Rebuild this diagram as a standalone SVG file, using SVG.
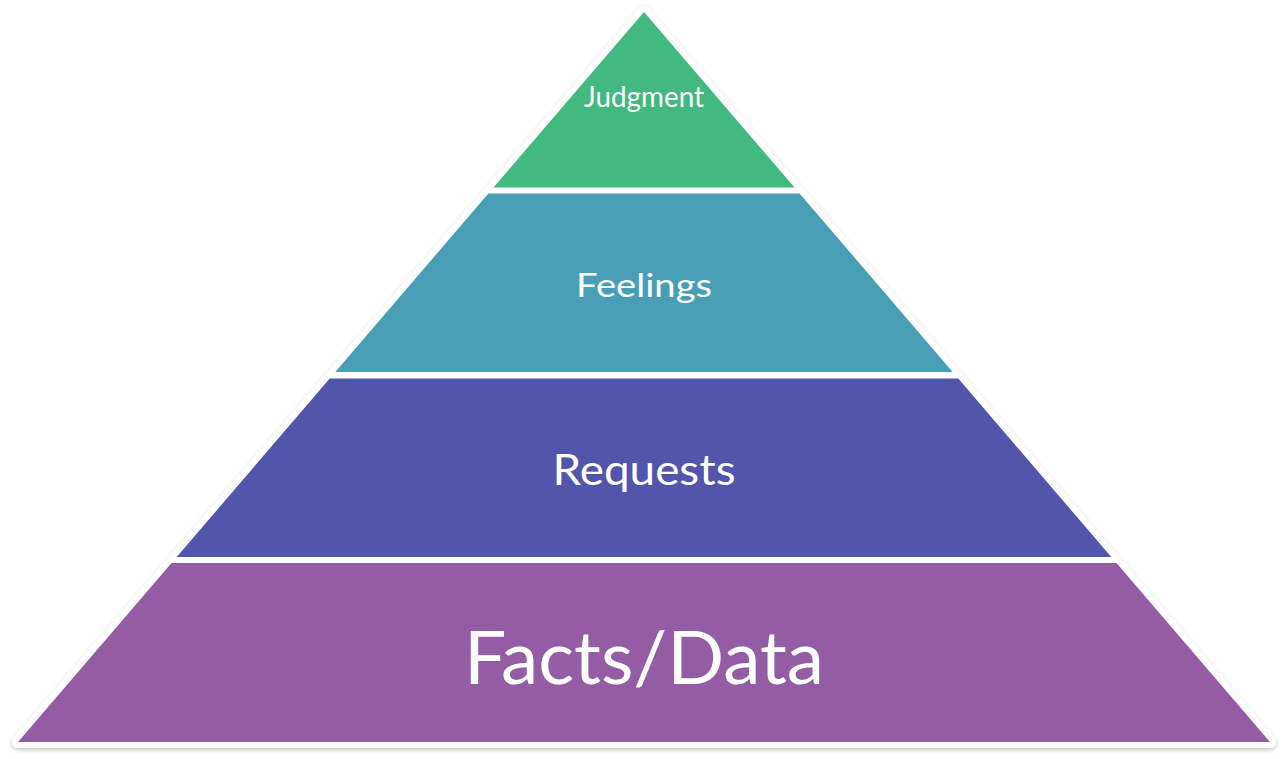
<svg xmlns="http://www.w3.org/2000/svg" width="1288" height="759" viewBox="0 0 1288 759">
  <defs>
    <filter id="shadow" x="-5%" y="-5%" width="110%" height="110%">
      <feDropShadow dx="0" dy="2" stdDeviation="2" flood-color="#000" flood-opacity="0.22"/>
    </filter>
  </defs>
  <style>
    .lbl { fill: #ffffff; font-family: Lato, "Open Sans", "Liberation Sans", sans-serif; text-anchor: middle; }
  </style>
  <rect width="1288" height="759" fill="#ffffff"/>
  <g id="outline">
    <polygon points="644,12 1270,742 18,742" fill="#ffffff" stroke="#ffffff" stroke-width="12" stroke-linejoin="round" filter="url(#shadow)"/>
  </g>
  <g id="judgment">
    <polygon points="644,12 794.5,187.5 493.5,187.5" fill="#41B97F"/>
    <text class="lbl" x="644" y="107" font-size="29" textLength="120" lengthAdjust="spacingAndGlyphs">Judgment</text>
  </g>
  <g id="feelings">
    <polygon points="488.4,193.5 799.6,193.5 952.7,372 335.3,372" fill="#489FB5"/>
    <text class="lbl" x="644" y="297" font-size="33.5" textLength="136" lengthAdjust="spacingAndGlyphs">Feelings</text>
  </g>
  <g id="requests">
    <polygon points="329.7,378.5 958.3,378.5 1111.3,557 176.7,557" fill="#5156AC"/>
    <text class="lbl" x="644" y="485" font-size="42" textLength="183" lengthAdjust="spacingAndGlyphs">Requests</text>
  </g>
  <g id="facts-data">
    <polygon points="171.5,563 1116.5,563 1270,742 18,742" fill="#945CA5"/>
    <text class="lbl" x="644" y="684" font-size="74" textLength="360" lengthAdjust="spacingAndGlyphs">Facts/Data</text>
  </g>
  <g id="connectors"/>
</svg>
